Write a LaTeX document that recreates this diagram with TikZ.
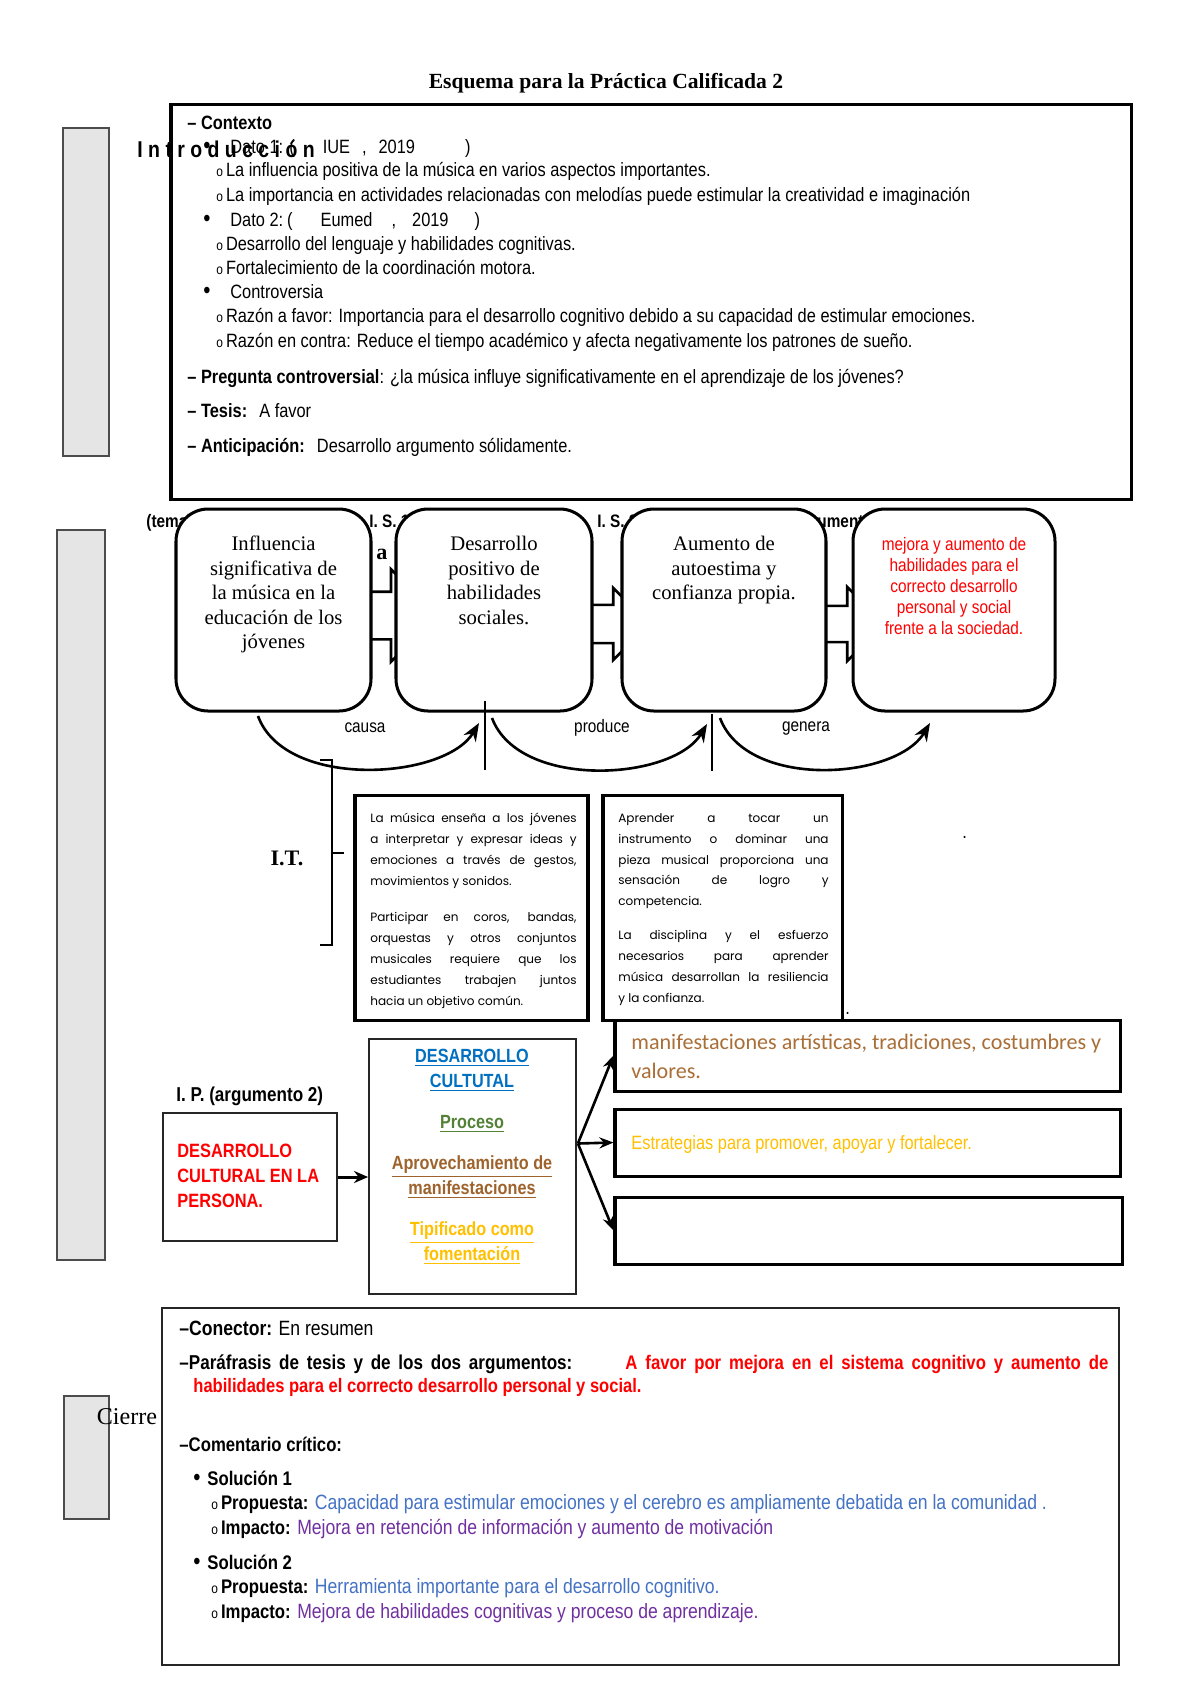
\documentclass[tikz,border=0pt]{standalone}
\usepackage{fontspec}
\usepackage{xcolor}
\usepackage{tikz}
\usetikzlibrary{shapes.arrows, arrows.meta, positioning, fit, calc}
\setmainfont{Liberation Serif}
\newfontfamily\nar[FakeStretch=0.85]{Liberation Sans}
\newfontfamily\carl{Carlito}
\newfontfamily\popf{Poppins}
\newlength\px
\setlength\px{0.175mm}
\newcommand\setfs[2]{\fontsize{#1}{#2}\selectfont}
\newcommand\subo{{\setfs{7}{7}o}\hspace{3\px}}
\newcommand\bul{{\setfs{12}{12}•}}
\definecolor{wblue}{HTML}{0070C0}
\definecolor{wgreen}{HTML}{538135}
\definecolor{wbrown}{RGB}{158,98,44}
\definecolor{wgold}{HTML}{FFC000}
\definecolor{rbrown}{RGB}{170,110,55}
\definecolor{cblue}{HTML}{4472C4}
\definecolor{cpurple}{HTML}{7030A0}
\tikzset{
  sidebar/.style={draw=black!70, fill=black!10, line width=0.8pt, inner sep=0pt},
  boxframe/.style={draw=black, fill=white, line width=1.5pt, inner sep=0pt},
  thinframe/.style={draw=black!85, fill=white, line width=0.9pt, inner sep=0pt},
  flowbox/.style={draw=black, fill=white, line width=1.5pt, rounded corners=16pt,
                  inner sep=0pt},
  flowtxt/.style={anchor=north, inner sep=0pt, align=center, font=\setfs{10.3}{12.2}},
  txt/.style={anchor=base west, inner sep=0pt, font=\nar\setfs{9.6}{11}},
  ctxt/.style={anchor=base west, inner sep=0pt, font=\nar\setfs{10.3}{12}},
  tag/.style={anchor=base west, inner sep=0pt, font=\nar\bfseries\setfs{9}{11}},
  ittxt/.style={anchor=north, inner sep=0pt, align=justify,
                font=\popf\setfs{6}{10.4}\sloppy},
  blockarr/.style={single arrow, draw=black, fill=white, line width=1.3pt,
                   inner xsep=0pt, single arrow tip angle=90, anchor=tail},
}

\begin{document}
\begin{tikzpicture}[
  x=0.175mm, y=-0.175mm,
  curvarr/.style={draw=black, line width=1.3pt, -{Stealth[length=9pt,width=7pt]}},
  forkarr/.style={draw=black, line width=1.3pt, -{Stealth[length=7pt,width=5.5pt]}},
  tick/.style={draw=black, line width=0.7pt}
]
  \fill[white] (0,0) rectangle (1200,1696);
  \useasboundingbox (0,0) rectangle (1200,1696);

  \node[inner sep=0pt, font=\bfseries\setfs{10.75}{12}] (title) at (606,83)
    {Esquema para la Práctica Calificada 2};

  \node[sidebar, fit={(63,128) (109,456)}] (introbar) {};
  \node[boxframe, fit={(171,104) (1131,499)}] (intro) {};
  \node[anchor=base west, inner sep=0pt, font=\nar\bfseries\setfs{11.4}{12}] (introlbl)
    at (137,157) {I n t r o d u c c i ó n};

  \node[txt] (ctx) at (187,129) {\textbf{– Contexto}};
  \node[txt] (d1bul) at (203,153) {\bul};
  \node[txt] (d1) at (230,153)
    {Dato 1: (\hspace{28\px}IUE\hspace{12\px},\hspace{12\px}2019\hspace{50\px})};
  \node[txt] (d1a) at (216,176)
    {\subo La influencia positiva de la música en varios aspectos importantes.};
  \node[txt] (d1b) at (216,201)
    {\subo La importancia en actividades relacionadas con melodías puede estimular la creatividad e imaginación};
  \node[txt] (d2bul) at (203,226) {\bul};
  \node[txt] (d2) at (230,226)
    {Dato 2:\hspace{4\px}(\hspace{28\px}Eumed\hspace{19\px},\hspace{16\px}2019\hspace{26\px})};
  \node[txt] (d2a) at (216,250) {\subo Desarrollo del lenguaje y habilidades cognitivas.};
  \node[txt] (d2b) at (216,274) {\subo Fortalecimiento de la coordinación motora.};
  \node[txt] (cvbul) at (203,298) {\bul};
  \node[txt] (cv) at (230,298) {Controversia};
  \node[txt] (cva) at (216,322)
    {\subo Razón a favor: Importancia para el desarrollo cognitivo debido a su capacidad de estimular emociones.};
  \node[txt] (cvb) at (216,347)
    {\subo Razón en contra: Reduce el tiempo académico y afecta negativamente los patrones de sueño.};
  \node[txt] (preg) at (187,383)
    {\textbf{– Pregunta controversial}: ¿la música influye significativamente en el aprendizaje de los jóvenes?};
  \node[txt] (tesis) at (187,417) {\textbf{– Tesis:}\hspace{6\px} A favor};
  \node[txt] (antic) at (187,452) {\textbf{– Anticipación:}\hspace{6\px} Desarrollo argumento sólidamente.};

  \node[sidebar, fit={(57,530) (105,1260)}] (devbar) {};

  \node[tag] (lbltema) at (146,527) {(tema)};
  \node[tag] (lblis1) at (369,527) {I. S. 1};
  \node[tag] (lblis2) at (597,527) {I. S. 2};
  \node[tag] (lblarg) at (788,527) {(argumento 1)};
  \node[inner sep=0pt, font=\bfseries\setfs{11}{13}] (lbla) at (382,554) {a};

  \node[blockarr, minimum height=76*\px, minimum width=76*\px, inner ysep=11.2pt,
        single arrow head extend=11.2pt] (a12) at (360,615.5) {};
  \node[blockarr, minimum height=63*\px, minimum width=63*\px, inner ysep=8.9pt,
        single arrow head extend=8.4pt] (a23) at (585,624) {};
  \node[blockarr, minimum height=63*\px, minimum width=63*\px, inner ysep=8.4pt,
        single arrow head extend=9.4pt] (a34) at (820,624) {};

  \node[flowbox, fit={(176,509) (371,711)}] (b1) {};
  \node[flowbox, fit={(396,509) (592,711)}] (b2) {};
  \node[flowbox, fit={(622,509) (826,711)}] (b3) {};
  \node[flowbox, fit={(853,509) (1055,711)}] (b4) {};

  \node[flowtxt] (t1) at (273.5,536)
    {Influencia\\significativa de\\la música en la\\educación de los\\jóvenes};
  \node[flowtxt] (t2) at (494,536) {Desarrollo\\positivo de\\habilidades\\sociales.};
  \node[flowtxt] (t3) at (724,536) {Aumento de\\autoestima y\\confianza propia.};
  \node[flowtxt, text=red, font=\nar\setfs{9}{10.4}] (t4) at (954,537)
    {mejora y aumento de\\habilidades para el\\correcto desarrollo\\personal y social\\frente a la sociedad.};

  \coordinate (c1s) at (258,716);
  \coordinate (c1e) at (479,723);
  \coordinate (c2s) at (492,718);
  \coordinate (c2e) at (707,724);
  \coordinate (c3s) at (720,718);
  \coordinate (c3e) at (930,723);
  \draw[curvarr] (c1s) .. controls (285,790) and (445,780) .. (c1e);
  \draw[curvarr] (c2s) .. controls (519,790) and (673,781) .. (c2e);
  \draw[curvarr] (c3s) .. controls (747,790) and (896,780) .. (c3e);
  \node[txt, anchor=center, font=\nar\setfs{9}{11}] (causa) at (365,728) {causa};
  \node[txt, anchor=center, font=\nar\setfs{9}{11}] (produce) at (602,728) {produce};
  \node[txt, anchor=center, font=\nar\setfs{9}{11}] (genera) at (806,728) {genera};

  \draw[line width=1pt] (485,701) -- (485,770);
  \draw[line width=1pt] (712,714) -- (712,771);

  \draw[tick] (320,760) -- (332,760) -- (332,945) -- (320,945);
  \draw[tick] (332,853) -- (344,853);
  \node[inner sep=0pt, font=\bfseries\setfs{11}{13}] (itlbl) at (287,858) {I.T.};

  \node[boxframe, fit={(355,795) (588,1020)}] (ita) {};
  \node[boxframe, fit={(603,795) (842,1020)}] (itb) {};
  \node[ittxt, text width=102.7pt] (itatxt) at (473.5,813)
    {La música enseña a los jóvenes\linebreak a interpretar y expresar ideas y\linebreak
     emociones a través de gestos,\linebreak movimientos y sonidos.\par\vspace{7.5pt}
     Participar en coros, bandas,\linebreak orquestas y otros conjuntos\linebreak
     musicales requiere que los\linebreak estudiantes trabajen juntos\linebreak
     hacia un objetivo común.};
  \node[ittxt, text width=104.7pt] (itbtxt) at (723.5,813)
    {Aprender a tocar un\linebreak instrumento o dominar una\linebreak
     pieza musical proporciona una\linebreak sensación de logro y\linebreak
     competencia.\par\vspace{6.5pt}
     La disciplina y el esfuerzo\linebreak necesarios para aprender\linebreak
     música desarrollan la resiliencia\linebreak y la confianza.};
  \node[txt] (dot1) at (962,838) {.};
  \node[txt] (dot2) at (845,1014) {.};

  \node[txt, font=\nar\bfseries\setfs{10}{12}] (iplbl) at (176,1101) {I. P. (argumento 2)};
  \node[thinframe, fit={(163,1113) (337,1241)}] (ip) {};
  \node[anchor=north west, inner sep=0pt, align=left, text=red,
        font=\nar\bfseries\setfs{9.6}{12.4}] (iptxt) at (177,1144)
    {DESARROLLO\\CULTURAL EN LA\\PERSONA.};
  \node[thinframe, fit={(369,1039) (576,1294)}] (mb) {};
  \node[anchor=north, inner sep=0pt, align=center,
        font=\nar\bfseries\setfs{9.5}{12.4}] (mbtxt) at (472,1049)
    {\textcolor{wblue}{\underline{DESARROLLO}}\\\textcolor{wblue}{\underline{CULTUTAL}}\\[8pt]
     \textcolor{wgreen}{\underline{Proceso}}\\[8pt]
     \textcolor{wbrown}{\underline{Aprovechamiento de}}\\\textcolor{wbrown}{\underline{manifestaciones}}\\[8pt]
     \textcolor{wgold}{\underline{Tipificado como}}\\\textcolor{wgold}{\underline{fomentación}}};
  \draw[line width=1.5pt, -{Stealth[length=7pt,width=6pt]}] (ip.east) -- (ip.east -| mb.west);

  \node[boxframe, fit={(615,1020) (1120,1091)}] (r1) {};
  \node[boxframe, fit={(615,1109) (1120,1176)}] (r2) {};
  \node[boxframe, fit={(615,1197) (1122,1264)}] (r3) {};
  \node[anchor=north west, inner sep=0pt, align=left, text=rbrown,
        font=\carl\setfs{11}{14.4}] (r1txt) at (631,1034)
    {manifestaciones artísticas, tradiciones, costumbres y\\valores.};
  \node[txt, text=wgold] (r2txt) at (631,1149) {Estrategias para promover, apoyar y fortalecer.};
  \coordinate (fork) at ($(mb.east)+(1,-23)$);
  \draw[forkarr] (fork) -- (r1.west);
  \draw[forkarr] (fork) -- (r2.west);
  \draw[forkarr] (fork) -- (r3.west);

  \node[sidebar, fit={(64,1396) (109,1519)}] (cbar) {};
  \node[thinframe, fit={(162,1308) (1119,1665)}] (cierre) {};
  \node[inner sep=0pt, font=\setfs{12}{14}] (clbl) at (127,1417) {Cierre};

  \node[ctxt] (con) at (179,1335) {\textbf{–Conector:} En resumen};
  \node[ctxt, font=\nar\setfs{10}{12}] (para) at (179,1369)
    {\makebox[393\px][s]{\bfseries –Paráfrasis de tesis y de los dos argumentos:}};
  \node[ctxt, text=red, font=\nar\setfs{9.8}{12}] (para2) at (625,1369)
    {\makebox[483\px][s]{\bfseries A favor por mejora en el sistema cognitivo y aumento de}};
  \node[ctxt, text=red, font=\nar\setfs{9.7}{12}] (para3) at (193,1392)
    {\bfseries habilidades para el correcto desarrollo personal y social.};
  \node[ctxt, font=\nar\setfs{9.8}{12}] (com) at (179,1451) {\textbf{–Comentario crítico:}};
  \node[ctxt] (s1bul) at (193,1485) {\bul};
  \node[ctxt, font=\nar\setfs{9.8}{12}] (s1) at (207,1485) {\textbf{Solución 1}};
  \node[ctxt] (s1p) at (211,1509)
    {\subo\textbf{\setfs{9.8}{12}Propuesta:} \textcolor{cblue}{Capacidad para estimular emociones y el cerebro es ampliamente debatida en la comunidad .}};
  \node[ctxt] (s1i) at (211,1534)
    {\subo\textbf{\setfs{9.8}{12}Impacto:} \textcolor{cpurple}{Mejora en retención de información y aumento de motivación}};
  \node[ctxt] (s2bul) at (193,1569) {\bul};
  \node[ctxt, font=\nar\setfs{9.8}{12}] (s2) at (207,1569) {\textbf{Solución 2}};
  \node[ctxt] (s2p) at (211,1593)
    {\subo\textbf{\setfs{9.8}{12}Propuesta:} \textcolor{cblue}{Herramienta importante para el desarrollo cognitivo.}};
  \node[ctxt] (s2i) at (211,1618)
    {\subo\textbf{\setfs{9.8}{12}Impacto:} \textcolor{cpurple}{Mejora de habilidades cognitivas y proceso de aprendizaje.}};
\end{tikzpicture}
\end{document}
